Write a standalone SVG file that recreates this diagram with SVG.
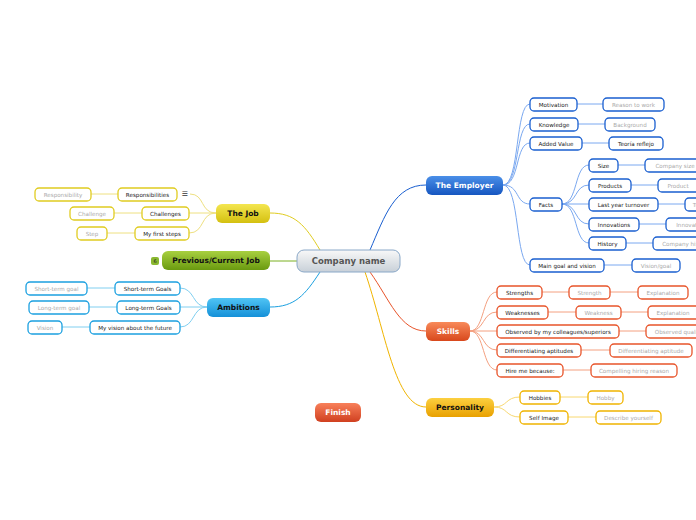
<svg xmlns="http://www.w3.org/2000/svg" width="696" height="520" viewBox="0 0 696 520">
<style>
text{font-family:"DejaVu Sans",Verdana,sans-serif;text-anchor:middle;dominant-baseline:central}
.m{font-size:7.5px;font-weight:bold;fill:#111}
.s{font-size:5.6px;fill:#222}
.l{font-size:5.6px;fill:#aaa}
.n{fill:#fff;stroke-width:1.3}
.b{stroke:#1a5fd0}.r{stroke:#e8542a}.y{stroke:#f0b400}.j{stroke:#e0cc20}.a{stroke:#1ba0e0}
.cb{stroke:#7aa8f0}.cr{stroke:#f4a080}.cy{stroke:#f8d870}.cj{stroke:#eee080}.ca{stroke:#80cff0}
path{fill:none;stroke-width:1}
</style>
<defs>
<linearGradient id="gc" x1="0" y1="0" x2="0" y2="1"><stop offset="0" stop-color="#f8f8f8"/><stop offset="1" stop-color="#c8d0d8"/></linearGradient>
<linearGradient id="gb" x1="0" y1="0" x2="0" y2="1"><stop offset="0" stop-color="#4a8fe8"/><stop offset="1" stop-color="#1656c0"/></linearGradient>
<linearGradient id="gr" x1="0" y1="0" x2="0" y2="1"><stop offset="0" stop-color="#f88a5a"/><stop offset="1" stop-color="#d8481c"/></linearGradient>
<linearGradient id="gy" x1="0" y1="0" x2="0" y2="1"><stop offset="0" stop-color="#fcd040"/><stop offset="1" stop-color="#e8a000"/></linearGradient>
<linearGradient id="gj" x1="0" y1="0" x2="0" y2="1"><stop offset="0" stop-color="#f4e650"/><stop offset="1" stop-color="#d4c010"/></linearGradient>
<linearGradient id="gg" x1="0" y1="0" x2="0" y2="1"><stop offset="0" stop-color="#a8d040"/><stop offset="1" stop-color="#6a9a10"/></linearGradient>
<linearGradient id="ga" x1="0" y1="0" x2="0" y2="1"><stop offset="0" stop-color="#50c4f4"/><stop offset="1" stop-color="#1490d8"/></linearGradient>
<linearGradient id="gf" x1="0" y1="0" x2="0" y2="1"><stop offset="0" stop-color="#f8805a"/><stop offset="1" stop-color="#d04020"/></linearGradient>
</defs>
<g id="connectors">
<path stroke="#1a5fd0" stroke-width="1.3" d="M370,250 C385,215 395,185 426,185"/>
<path stroke="#e8542a" stroke-width="1.3" d="M370,272 C390,300 400,331 426,331"/>
<path stroke="#f0b400" stroke-width="1.3" d="M365,272 C385,330 395,407 426,407"/>
<path stroke="#e0cc20" stroke-width="1.3" d="M320,250 C305,225 295,213 270,213"/>
<path stroke="#7ab020" stroke-width="1.3" d="M297,261 L270,261"/>
<path stroke="#1ba0e0" stroke-width="1.3" d="M320,272 C305,295 295,307 270,307"/>
<g class="cb">
<path d="M503,185 C520,185 515,104 530,104"/><path d="M503,185 C520,185 515,124 530,124"/><path d="M503,185 C520,185 515,143 530,143"/><path d="M503,185 C520,185 515,204 530,204"/><path d="M503,185 C520,185 515,265 530,265"/>
<path d="M577,104 H603"/><path d="M578,124 H605"/><path d="M582,143 H609"/><path d="M604,265 H632"/>
<path d="M562,204 C578,204 574,165 589,165"/><path d="M562,204 C578,204 574,185 589,185"/><path d="M562,204 H589"/><path d="M562,204 C578,204 574,224 589,224"/><path d="M562,204 C578,204 574,243 589,243"/>
<path d="M618,165 H645"/><path d="M631,185 H658"/><path d="M658,204 H685"/><path d="M639,224 H666"/><path d="M626,243 H653"/>
</g>
<g class="cr">
<path d="M470,331 C485,331 482,292 497,292"/><path d="M470,331 C485,331 482,312 497,312"/><path d="M470,331 H497"/><path d="M470,331 C485,331 482,350 497,350"/><path d="M470,331 C485,331 482,370 497,370"/>
<path d="M542,292 H569"/><path d="M610,292 H638"/><path d="M548,312 H576"/><path d="M621,312 H648"/><path d="M619,331 H646"/><path d="M581,350 H610"/><path d="M563,370 H591"/>
</g>
<g class="cy">
<path d="M494,407 C508,407 505,397 520,397"/><path d="M494,407 C508,407 505,417 520,417"/><path d="M560,397 H588"/><path d="M568,417 H596"/>
</g>
<g class="cj">
<path d="M216,213 C200,213 205,194 190,194"/><path d="M216,213 H189"/><path d="M216,213 C200,213 205,233 189,233"/>
<path d="M118,194 H91"/><path d="M142,213 H114"/><path d="M135,233 H107"/>
</g>
<g class="ca">
<path d="M207,307 C192,307 195,288 180,288"/><path d="M207,307 H180"/><path d="M207,307 C192,307 195,327 180,327"/>
<path d="M115,288 H87"/><path d="M117,307 H89"/><path d="M90,327 H62"/>
</g>
</g>
<g id="center"><rect x="297" y="250" width="103" height="22" rx="7" fill="url(#gc)" stroke="#8aa8c8"/><text x="348.5" y="261" style="font-size:8.5px;font-weight:bold;fill:#555">Company name</text></g>
<g id="employer"><rect x="426" y="176" width="77" height="19" rx="6" fill="url(#gb)"/><text x="464.5" y="185.5" class="m" style="fill:#fff">The Employer</text></g>
<g id="skills"><rect x="426" y="322" width="44" height="19" rx="6" fill="url(#gr)"/><text x="448" y="331.5" class="m" style="fill:#fff">Skills</text></g>
<g id="personality"><rect x="426" y="398" width="68" height="19" rx="6" fill="url(#gy)"/><text x="460" y="407.5" class="m">Personality</text></g>
<g id="finish"><rect x="315" y="403" width="46" height="19" rx="6" fill="url(#gf)"/><text x="338" y="412.5" class="m" style="fill:#fff">Finish</text></g>
<g id="thejob"><rect x="216" y="204" width="54" height="19" rx="6" fill="url(#gj)"/><text x="243" y="213.5" class="m">The Job</text></g>
<g id="previous"><rect x="162" y="251" width="108" height="19" rx="6" fill="url(#gg)"/><text x="216" y="260.5" class="m">Previous/Current Job</text><rect x="151" y="257" width="8" height="8" rx="2" fill="#8ab830"/><text x="155" y="261" style="font-size:5px;fill:#222">6</text></g>
<g id="ambitions"><rect x="207" y="298" width="63" height="19" rx="6" fill="url(#ga)"/><text x="238.5" y="307.5" class="m">Ambitions</text></g>
<g id="emp-sub">
<rect class="n b" x="530" y="98" width="47" height="13" rx="4"/><text class="s" x="553.5" y="104.5">Motivation</text>
<rect class="n b" x="603" y="98" width="61" height="13" rx="4"/><text class="l" x="633.5" y="104.5">Reason to work</text>
<rect class="n b" x="530" y="118" width="48" height="13" rx="4"/><text class="s" x="554" y="124.5">Knowledge</text>
<rect class="n b" x="605" y="118" width="50" height="13" rx="4"/><text class="l" x="630" y="124.5">Background</text>
<rect class="n b" x="530" y="137" width="52" height="13" rx="4"/><text class="s" x="556" y="143.5">Added Value</text>
<rect class="n b" x="609" y="137" width="54" height="13" rx="4"/><text class="s" x="636" y="143.5">Teoría reflejo</text>
<rect class="n b" x="530" y="198" width="32" height="13" rx="4"/><text class="s" x="546" y="204.5">Facts</text>
<rect class="n b" x="589" y="159" width="29" height="13" rx="4"/><text class="s" x="603.5" y="165.5">Size</text>
<rect class="n b" x="645" y="159" width="60" height="13" rx="4"/><text class="l" x="675" y="165.5">Company size</text>
<rect class="n b" x="589" y="179" width="42" height="13" rx="4"/><text class="s" x="610" y="185.5">Products</text>
<rect class="n b" x="658" y="179" width="45" height="13" rx="4"/><text class="l" x="678" y="185.5">Product</text>
<rect class="n b" x="589" y="198" width="69" height="13" rx="4"/><text class="s" x="623.5" y="204.5">Last year turnover</text>
<rect class="n b" x="685" y="198" width="40" height="13" rx="4"/><text class="l" x="705" y="204.5">Turnover</text>
<rect class="n b" x="589" y="218" width="50" height="13" rx="4"/><text class="s" x="614" y="224.5">Innovations</text>
<rect class="n b" x="666" y="218" width="50" height="13" rx="4"/><text class="l" x="691" y="224.5">Innovation</text>
<rect class="n b" x="589" y="237" width="37" height="13" rx="4"/><text class="s" x="607.5" y="243.5">History</text>
<rect class="n b" x="653" y="237" width="66" height="13" rx="4"/><text class="l" x="686" y="243.5">Company history</text>
<rect class="n b" x="530" y="259" width="74" height="13" rx="4"/><text class="s" x="567" y="265.5">Main goal and vision</text>
<rect class="n b" x="632" y="259" width="48" height="13" rx="4"/><text class="l" x="656" y="265.5">Vision/goal</text>
</g>
<g id="skills-sub">
<rect class="n r" x="497" y="286" width="45" height="13" rx="4"/><text class="s" x="519.5" y="292.5">Strengths</text>
<rect class="n r" x="569" y="286" width="41" height="13" rx="4"/><text class="l" x="589.5" y="292.5">Strength</text>
<rect class="n r" x="638" y="286" width="50" height="13" rx="4"/><text class="l" x="663" y="292.5">Explanation</text>
<rect class="n r" x="497" y="306" width="51" height="13" rx="4"/><text class="s" x="522.5" y="312.5">Weaknesses</text>
<rect class="n r" x="576" y="306" width="45" height="13" rx="4"/><text class="l" x="598.5" y="312.5">Weakness</text>
<rect class="n r" x="648" y="306" width="52" height="13" rx="4"/><text class="l" x="673" y="312.5">Explanation</text>
<rect class="n r" x="497" y="325" width="122" height="13" rx="4"/><text class="s" x="558" y="331.5">Observed by my colleagues/superiors</text>
<rect class="n r" x="646" y="325" width="70" height="13" rx="4"/><text class="l" x="681" y="331.5">Observed qualities</text>
<rect class="n r" x="497" y="344" width="84" height="13" rx="4"/><text class="s" x="539" y="350.5">Differentiating aptitudes</text>
<rect class="n r" x="610" y="344" width="82" height="13" rx="4"/><text class="l" x="651" y="350.5">Differentiating aptitude</text>
<rect class="n r" x="497" y="364" width="66" height="13" rx="4"/><text class="s" x="530" y="370.5">Hire me because:</text>
<rect class="n r" x="591" y="364" width="86" height="13" rx="4"/><text class="l" x="634" y="370.5">Compelling hiring reason</text>
</g>
<g id="pers-sub">
<rect class="n y" x="520" y="391" width="40" height="13" rx="4"/><text class="s" x="540" y="397.5">Hobbies</text>
<rect class="n y" x="588" y="391" width="35" height="13" rx="4"/><text class="l" x="605.5" y="397.5">Hobby</text>
<rect class="n y" x="520" y="411" width="48" height="13" rx="4"/><text class="s" x="544" y="417.5">Self Image</text>
<rect class="n y" x="596" y="411" width="65" height="13" rx="4"/><text class="l" x="628.5" y="417.5">Describe yourself</text>
</g>
<g id="job-sub">
<rect class="n j" x="118" y="188" width="59" height="13" rx="4"/><text class="s" x="147.5" y="194.5">Responsibilities</text>
<text x="185" y="194" style="font-size:7px;fill:#333">☰</text>
<rect class="n j" x="35" y="188" width="56" height="13" rx="4"/><text class="l" x="63" y="194.5">Responsibility</text>
<rect class="n j" x="142" y="207" width="47" height="13" rx="4"/><text class="s" x="165.5" y="213.5">Challenges</text>
<rect class="n j" x="70" y="207" width="44" height="13" rx="4"/><text class="l" x="92" y="213.5">Challenge</text>
<rect class="n j" x="135" y="227" width="54" height="13" rx="4"/><text class="s" x="162" y="233.5">My first steps</text>
<rect class="n j" x="77" y="227" width="30" height="13" rx="4"/><text class="l" x="92" y="233.5">Step</text>
</g>
<g id="amb-sub">
<rect class="n a" x="115" y="282" width="65" height="13" rx="4"/><text class="s" x="147.5" y="288.5">Short-term Goals</text>
<rect class="n a" x="26" y="282" width="61" height="13" rx="4"/><text class="l" x="56.5" y="288.5">Short-term goal</text>
<rect class="n a" x="117" y="301" width="63" height="13" rx="4"/><text class="s" x="148.5" y="307.5">Long-term Goals</text>
<rect class="n a" x="29" y="301" width="60" height="13" rx="4"/><text class="l" x="59" y="307.5">Long-term goal</text>
<rect class="n a" x="90" y="321" width="90" height="13" rx="4"/><text class="s" x="135" y="327.5">My vision about the future</text>
<rect class="n a" x="28" y="321" width="34" height="13" rx="4"/><text class="l" x="45" y="327.5">Vision</text>
</g>
</svg>
